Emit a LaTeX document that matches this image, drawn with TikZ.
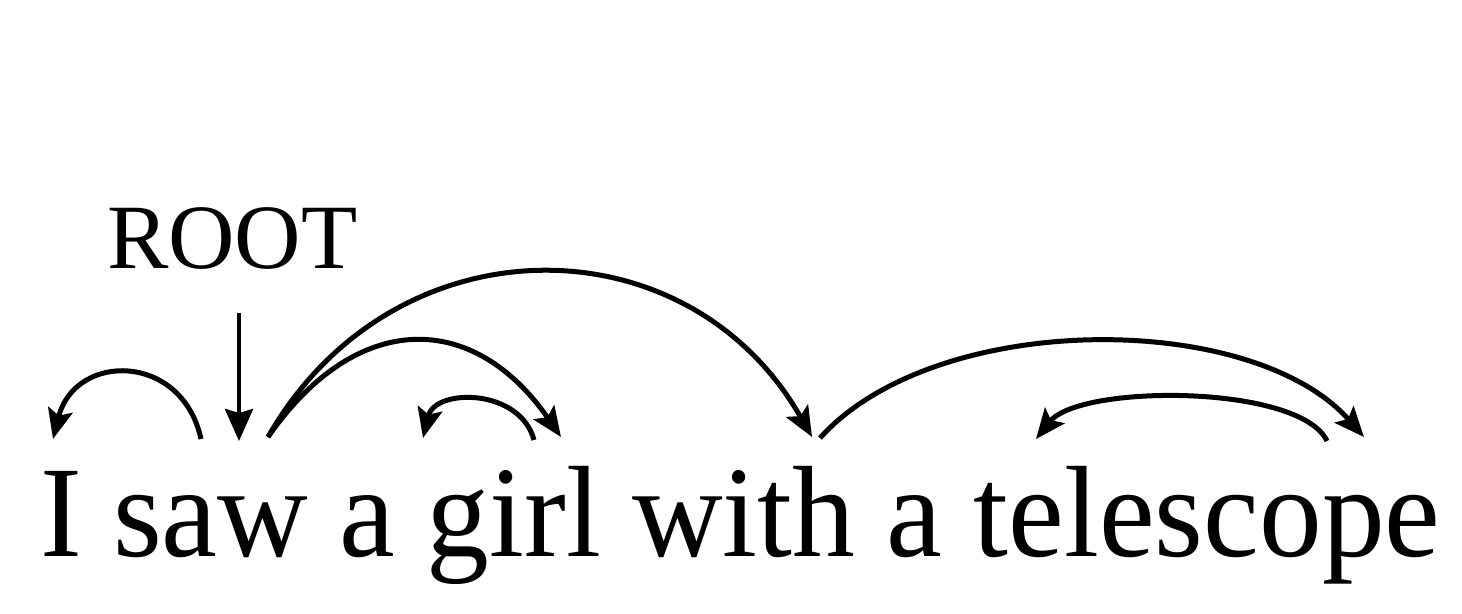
\documentclass[tikz,border=0pt]{standalone}
\usepackage{fontspec}
\setmainfont{Liberation Serif}
\usetikzlibrary{arrows.meta}
\begin{document}
\begin{tikzpicture}[x=0.5pt,y=-0.5pt,
  word/.style={inner sep=0pt,outer sep=0pt,anchor=base west},
  dep/.style={line width=2.5pt,-{Stealth[length=15pt,width=12.5pt,inset=3pt]}},
  rootarr/.style={line width=2pt,-{Stealth[length=16pt,width=14pt,inset=2pt]}}]
\useasboundingbox (0,0) rectangle (1462,614);
\node[word,font=\fontsize{65pt}{70pt}\selectfont,xscale=0.965] (sent) at (40,556) {I saw a girl with a telescope};
\node[word,font=\fontsize{46pt}{50pt}\selectfont] (root) at (107,269) {ROOT};
% anchor coordinates
\coordinate (rootS) at (239,313);
\coordinate (rootE) at (239,441);
\coordinate (sawL) at (201,439);
\coordinate (iT) at (53,439);
\coordinate (sawR) at (268,437);
\coordinate (girlT) at (561,437);
\coordinate (withT) at (812,437);
\coordinate (withS) at (820,438);
\coordinate (teleT) at (1364,437);
\coordinate (girlS) at (534,440);
\coordinate (aT) at (423,438);
\coordinate (teleS) at (1327,441);
\coordinate (a2T) at (1036,439);
% connectors
\draw[rootarr] (rootS) -- (rootE);
\draw[dep] (sawL) .. controls (182,352) and (75,352) .. (iT);
\draw[dep] (sawR) .. controls (356,310) and (473,310) .. (girlT);
\draw[dep] (sawR) .. controls (393,218) and (687,218) .. (withT);
\draw[dep] (girlS) .. controls (520,388) and (435,388) .. (aT);
\draw[dep] (withS) .. controls (935,310) and (1252,310) .. (teleT);
\draw[dep] (teleS) .. controls (1300,384) and (1080,384) .. (a2T);
\end{tikzpicture}
\end{document}
